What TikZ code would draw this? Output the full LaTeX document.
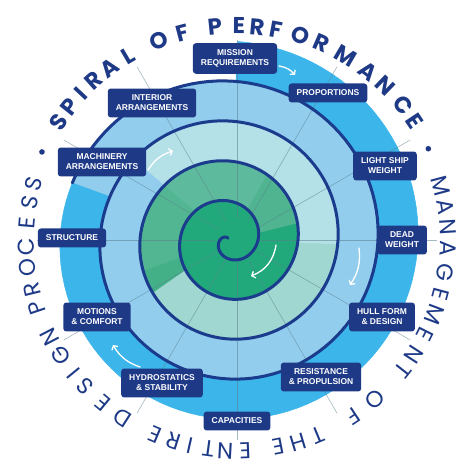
\documentclass[tikz,border=0pt]{standalone}
\usepackage{fontspec}
\newfontfamily\boxfont{Liberation Sans}
\newfontfamily\arcfont{Poppins}
\usetikzlibrary{arrows.meta}

\definecolor{boxblue}{HTML}{1E3A87}
\definecolor{spiralnavy}{HTML}{1B3B8D}
\definecolor{gdark}{HTML}{22A97B}
\definecolor{gA}{HTML}{4FB48F}
\definecolor{gB}{HTML}{5EBA9C}
\definecolor{gC}{HTML}{53B692}
\definecolor{gD}{HTML}{44B088}
\definecolor{tealA}{HTML}{A1D7D1}
\definecolor{paleA}{HTML}{B4E0E8}
\definecolor{lightA}{HTML}{93CDEE}
\definecolor{brightA}{HTML}{3CB5EA}
\definecolor{spokegray}{HTML}{5A7F8C}

\tikzset{
  stagebox/.style={fill=boxblue, rounded corners=3bp, text=white, align=center,
    font=\boxfont\bfseries\fontsize{8.5}{10}\selectfont, inner xsep=8bp, inner ysep=6.5bp},
  flowarrow/.style={white, line width=1.3bp, line cap=round,
    -{Straight Barb[length=3bp,width=7bp]}},
  spoke/.style={spokegray, opacity=0.55, line width=0.6bp},
  arcbold/.style={text=boxblue, inner sep=0pt, font=\arcfont\bfseries\fontsize{23}{23}\selectfont},
  arcthin/.style={text=boxblue, inner sep=0pt, font=\arcfont\fontsize{23}{23}\selectfont},
}

\begin{document}
\begin{tikzpicture}[x=1bp, y=1bp]
\useasboundingbox (-237,-234) rectangle (235,240);

% centre of the spiral
\fill[gdark] plot[domain=-243:380, samples=200] ({-8+(29+\x/9)*cos(\x)},{(29+\x/9)*sin(\x)}) -- cycle;

% bands, from the inside out
\foreach \a/\b/\c in {14/60/gA, 60/140/gB, 140/200/gC, 200/215/gD, 215/358/tealA,
    358/500/paleA, 500/880/lightA, 880/1167.5/brightA}
  \filldraw[fill=\c, draw=\c, line width=0.5bp]
    plot[domain=\a:\b, samples=90] ({-8+(29+\x/9)*cos(\x)},{(29+\x/9)*sin(\x)})
    -- plot[domain=\b:\a, samples=90] ({-8+(69+\x/9)*cos(\x)},{(69+\x/9)*sin(\x)}) -- cycle;

% spokes
\foreach \t in {0,30,...,330}
  \draw[spoke] (\t:22) -- (\t:200);

% the spiral line
\draw[spiralnavy, line width=3bp, line cap=round]
  plot[domain=-243:1240, samples=500] ({-8+(29+\x/9)*cos(\x)},{(29+\x/9)*sin(\x)});

% stages
\node[stagebox] (mission) at (-2,181.5) {MISSION\\REQUIREMENTS};
\node[stagebox] (proportions) at (91,147) {PROPORTIONS};
\node[stagebox] (lightship) at (148,74) {LIGHT SHIP\\WEIGHT};
\node[stagebox] (deadweight) at (165,0) {DEAD\\WEIGHT};
\node[stagebox] (hullform) at (145,-77) {HULL FORM\\\& DESIGN};
\node[stagebox] (resistance) at (84,-137) {RESISTANCE\\\& PROPULSION};
\node[stagebox] (capacities) at (0,-181) {CAPACITIES};
\node[stagebox] (hydrostatics) at (-75,-143) {HYDROSTATICS\\\& STABILITY};
\node[stagebox] (motions) at (-140,-77) {MOTIONS\\\& COMFORT};
\node[stagebox] (structure) at (-165,2) {STRUCTURE};
\node[stagebox] (machinery) at (-135,78) {MACHINERY\\ARRANGEMENTS};
\node[stagebox] (interior) at (-85,137) {INTERIOR\\ARRANGEMENTS};

% flow arrows
\coordinate (a1s) at (42,174);   \coordinate (a1e) at (58,165);
\coordinate (a2s) at (122,-8);   \coordinate (a2e) at (113,-45);
\coordinate (a3s) at (-97,-127); \coordinate (a3e) at (-124,-105);
\coordinate (a4s) at (-89,70);   \coordinate (a4e) at (-64,89);
\coordinate (a5s) at (39,-5);    \coordinate (a5e) at (14,-36);
\draw[flowarrow] (a1s) to[bend left=20] (a1e);
\draw[flowarrow] (a2s) to[bend left=20] (a2e);
\draw[flowarrow] (a3s) to[bend left=20] (a3e);
\draw[flowarrow] (a4s) to[bend left=20] (a4e);
\draw[flowarrow] (a5s) to[bend left=30] (a5e);

% lettering round the outside
\foreach \ch/\a in {S/146.7, P/141.5, I/136.9, R/131.9, A/126.4, L/120.5,
    O/111.4, F/104.8, P/95.9, E/89.5, R/84.6, F/79.6, O/72.6, R/66.7,
    M/59.5, A/52.1, N/46.0, C/39.2, E/33.7}
  \node[arcbold, rotate=\a-90] at (\a:214) {\ch};
\foreach \ch/\a in {M/14.9, A/9.0, N/3.6, A/-2.2, G/-9.0, E/-15.0, M/-20.7, E/-26.7,
    N/-32.9, T/-38.1, O/-49, F/-56.5, T/-67.5, H/-73.2, E/-78.7,
    E/-87.8, N/-93.2, T/-97.8, I/-102.8, R/-107.6, E/-112.8,
    D/-122.8, E/-129.6, S/-136, I/-140.7, G/-146.8, N/-152.6,
    P/-161.4, R/-166.3, O/-172.6, C/-178, E/-184.7, S/-190.3, S/-195.4}
  \node[arcthin, rotate=\a-90] at (\a:211) {\ch};
\fill[boxblue] (155.7:214) circle (2.8);
\fill[boxblue] (25.5:212) circle (2.8);
\end{tikzpicture}
\end{document}
